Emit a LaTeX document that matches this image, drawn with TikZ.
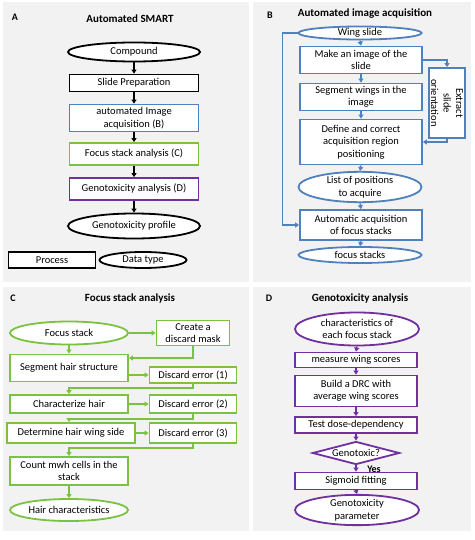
\documentclass[tikz,border=0pt]{standalone}
\usepackage{fontspec}
\setmainfont{Carlito}
\usetikzlibrary{shapes.geometric,arrows.meta}
\definecolor{acqblue}{RGB}{79,129,189}
\definecolor{stackgreen}{RGB}{124,194,66}
\definecolor{genopurple}{RGB}{112,48,160}
\definecolor{panelgray}{RGB}{242,242,242}
\begin{document}
\begin{tikzpicture}[x=1pt,y=-1pt,font=\fontsize{10.5}{12.5}\selectfont,
        lbl/.style={font=\fontsize{10}{12}\selectfont\bfseries},
        ttl/.style={font=\fontsize{11}{13}\selectfont\bfseries},
        proc/.style={draw,rectangle,line width=1.8pt,fill=white,align=center,inner sep=1pt},
        dat/.style={draw,ellipse,line width=1.8pt,fill=white,align=center,inner sep=0pt},
        arr/.style={line width=1.2pt,-{Triangle[width=5pt,length=4pt]}}]
        \useasboundingbox (0,0) rectangle (474,540);
        \fill[white] (0,0) rectangle (474,540);

        \foreach \x/\y/\w/\h in {3/2/246/280,253/2/218/280,3/287/246/244,253/287/218/244}
            \fill[panelgray] (\x,\y) rectangle ++(\w,\h);

        \node[lbl] (labA) at (15,17) {A};
        \node[ttl] (ttlA) at (130,19) {Automated SMART};
        \node[dat,minimum width=132,minimum height=19] (compound) at (134,52) {Compound};
        \node[proc,minimum width=129,minimum height=17] (slideprep) at (134,83) {Slide Preparation};
        \node[proc,draw=acqblue,minimum width=129,minimum height=27] (imgacq) at (134,118) {automated Image\\acquisition (B)};
        \node[proc,draw=stackgreen,minimum width=129,minimum height=22] (focusan) at (134,154) {Focus stack analysis (C)};
        \node[proc,draw=genopurple,minimum width=129,minimum height=22] (genoan) at (134,189) {Genotoxicity analysis (D)};
        \node[dat,minimum width=132,minimum height=25] (profile) at (134,226) {Genotoxicity profile};
        \node[proc,minimum width=87,minimum height=16] (legproc) at (52,260) {Process};
        \node[dat,minimum width=87,minimum height=16] (legdata) at (143,260) {Data type};

        \foreach \a/\b in {compound/slideprep,slideprep/imgacq,imgacq/focusan,focusan/genoan,genoan/profile}
            \draw[arr] (\a.south) -- (\b.north);

        \node[lbl] (labB) at (270,15) {B};
        \node[ttl] (ttlB) at (365,14) {Automated image acquisition};
        \node[dat,draw=acqblue,minimum width=123,minimum height=13] (wing) at (360,33) {Wing slide};
        \node[proc,draw=acqblue,minimum width=122,minimum height=27] (makeimg) at (361,60) {Make an image of the\\slide};
        \node[proc,draw=acqblue,minimum width=122,minimum height=27] (segwing) at (361,97) {Segment wings in the\\image};
        \node[proc,draw=acqblue,minimum width=122,minimum height=45] (define) at (361,142) {Define and correct\\acquisition region\\positioning};
        \node[dat,draw=acqblue,minimum width=123,minimum height=27] (listpos) at (360,187) {List of positions\\to acquire};
        \node[proc,draw=acqblue,minimum width=122,minimum height=30] (autoacq) at (361,225) {Automatic acquisition\\of focus stacks};
        \node[dat,draw=acqblue,minimum width=123,minimum height=16] (stacks) at (360,255) {focus stacks};
        \node[proc,draw=acqblue,rotate=-90,minimum width=70,minimum height=36] (extract) at (447,103) {Extract\\slide\\orientation};

        \foreach \a/\b in {wing/makeimg,makeimg/segwing,segwing/define,define/listpos,listpos/autoacq,autoacq/stacks}
            \draw[arr,acqblue] (\a.south) -- (\b.north);
        \draw[arr,acqblue] (makeimg.east) -| (extract.west);
        \draw[arr,acqblue] (extract.east) |- (define.east);
        \draw[arr,acqblue] (wing.west) -- ++(-15,0) |- (autoacq.west);

        \node[lbl] (labC) at (13,298) {C};
        \node[ttl] (ttlC) at (130,299) {Focus stack analysis};
        \node[dat,draw=stackgreen,minimum width=118,minimum height=23] (fstack) at (69,333) {Focus stack};
        \node[proc,draw=stackgreen,minimum width=73,minimum height=25] (mask) at (193,333) {Create a\\discard mask};
        \node[proc,draw=stackgreen,minimum width=118,minimum height=27] (seghair) at (69,368) {Segment hair structure};
        \node[proc,draw=stackgreen,minimum width=87,minimum height=16] (errone) at (193,375) {Discard error (1)};
        \node[proc,draw=stackgreen,minimum width=118,minimum height=18] (charhair) at (69,404) {Characterize hair};
        \node[proc,draw=stackgreen,minimum width=87,minimum height=18] (errtwo) at (193,404) {Discard error (2)};
        \node[proc,draw=stackgreen,minimum width=128,minimum height=20] (dethair) at (71,433) {Determine hair wing side};
        \node[proc,draw=stackgreen,minimum width=87,minimum height=20] (errthree) at (193,433) {Discard error (3)};
        \node[proc,draw=stackgreen,minimum width=118,minimum height=28] (count) at (69,471) {Count mwh cells in the\\stack};
        \node[dat,draw=stackgreen,minimum width=118,minimum height=22] (hairchar) at (69,510) {Hair characteristics};

        \draw[arr,stackgreen] (fstack.east) -- (mask.west);
        \draw[arr,stackgreen] (fstack.south) -- (seghair.north);
        \draw[arr,stackgreen] (mask.south) |- ([yshift=10pt]seghair.east);
        \draw[arr,stackgreen] (seghair.east |- errone.west) -- (errone.west);
        \draw[arr,stackgreen] (charhair.east) -- (errtwo.west);
        \draw[arr,stackgreen] (dethair.east) -- (errthree.west);
        \draw[arr,stackgreen] (errone.south) -- ++(0,4) -| (charhair.north);
        \draw[arr,stackgreen] (errtwo.south) -- ++(0,5) -| (dethair.north -| charhair.north);
        \draw[arr,stackgreen] (errthree.south) -- ++(0,4) -| (count.north);
        \draw[arr,stackgreen] (count.south) -- (hairchar.north);

        \node[lbl] (labD) at (269,298) {D};
        \node[ttl] (ttlD) at (360,299) {Genotoxicity analysis};
        \node[dat,draw=genopurple,minimum width=124,minimum height=33] (chars) at (357,329) {characteristics of\\each focus stack};
        \node[proc,draw=genopurple,minimum width=122,minimum height=15] (measure) at (356,360) {measure wing scores};
        \node[proc,draw=genopurple,minimum width=122,minimum height=31] (drc) at (356,391) {Build a DRC with\\average wing scores};
        \node[proc,draw=genopurple,minimum width=122,minimum height=16] (testdose) at (356,425) {Test dose-dependency};
        \node[diamond,draw=genopurple,line width=1.8pt,fill=white,aspect=3.8,inner sep=0pt,minimum width=87,minimum height=23] (genotoxic) at (356,453) {Genotoxic?};
        \node[lbl] (yes) at (374,469) {Yes};
        \node[proc,draw=genopurple,minimum width=122,minimum height=17] (sigmoid) at (356,481) {Sigmoid fitting};
        \node[dat,draw=genopurple,minimum width=124,minimum height=26] (param) at (357,510) {Genotoxicity\\parameter};

        \foreach \a/\b in {chars/measure,measure/drc,drc/testdose,testdose/genotoxic,genotoxic/sigmoid,sigmoid/param}
            \draw[arr,genopurple] (\a.south) -- (\b.north);
\end{tikzpicture}
\end{document}
